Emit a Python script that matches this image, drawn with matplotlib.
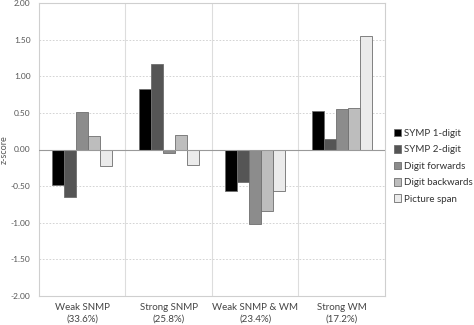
import numpy as np
from matplotlib import pyplot as plt

groups = ['Weak SNMP\n(33.6%)', 'Strong SNMP\n(25.8%)', 'Weak SNMP & WM\n(23.4%)', 'Strong WM\n(17.2%)']
series = ['SYMP 1-digit', 'SYMP 2-digit', 'Digit forwards', 'Digit backwards', 'Picture span']
symp1 = [-0.48, 0.82, -0.57, 0.52]
symp2 = [-0.65, 1.17, -0.45, 0.15]
digit_fwd = [0.51, -0.05, -1.02, 0.55]
digit_bwd = [0.18, 0.20, -0.84, 0.57]
pic_span = [-0.23, -0.21, -0.56, 1.55]
yticks = [-2.0, -1.5, -1.0, -0.5, 0.0, 0.5, 1.0, 1.5, 2.0]

values = [symp1, symp2, digit_fwd, digit_bwd, pic_span]
colors = ['#000000', '#555555', '#8c8c8c', '#bdbdbd', '#ebebeb']

plt.rc('font', family='Lato')
fig = plt.figure(figsize=(4.74, 3.25), dpi=100)
ax = fig.add_axes([0.082, 0.089, 0.730, 0.902])

x = np.arange(len(groups))
w = 0.139
for i, (vals, c) in enumerate(zip(values, colors)):
    ax.bar(x + (i - 2) * w, vals, width=w, color=c, edgecolor='#6e6e6e',
           linewidth=0.6, label=series[i], zorder=3)

ax.set_xlim(-0.5, len(groups) - 0.5)
ax.set_ylim(-2, 2)
ax.set_yticks(yticks)
ax.set_yticklabels(['%.2f' % t for t in yticks], fontsize=6, color='#555555')
ax.set_xticks(x)
ax.set_xticklabels(groups, fontsize=7, color='#444444', linespacing=1.3)
ax.tick_params(axis='x', length=0, pad=5)
ax.tick_params(axis='y', length=0, pad=6)

for t in yticks[1:-1]:
    if t != 0:
        ax.axhline(t, color='#cccccc', linestyle=(0, (2, 2)), linewidth=0.6, zorder=1)
ax.axhline(0, color='#999999', linewidth=0.8, zorder=4)
for s in [0.5, 1.5, 2.5]:
    ax.axvline(s, color='#dddddd', linewidth=0.8, zorder=1)
for sp in ax.spines.values():
    sp.set_color('#cfcfcf')
    sp.set_linewidth(0.8)

ax.set_ylabel('z-score', fontsize=6.5, color='#555555')
ax.yaxis.set_label_coords(-0.088, 0.5)

ax.legend(loc='upper left', bbox_to_anchor=(1.0, 0.6), frameon=False, fontsize=7,
          handlelength=0.8, handleheight=0.8, handletextpad=0.3, labelspacing=0.75,
          labelcolor='#333333')

fig.savefig('out.png', dpi=100)
